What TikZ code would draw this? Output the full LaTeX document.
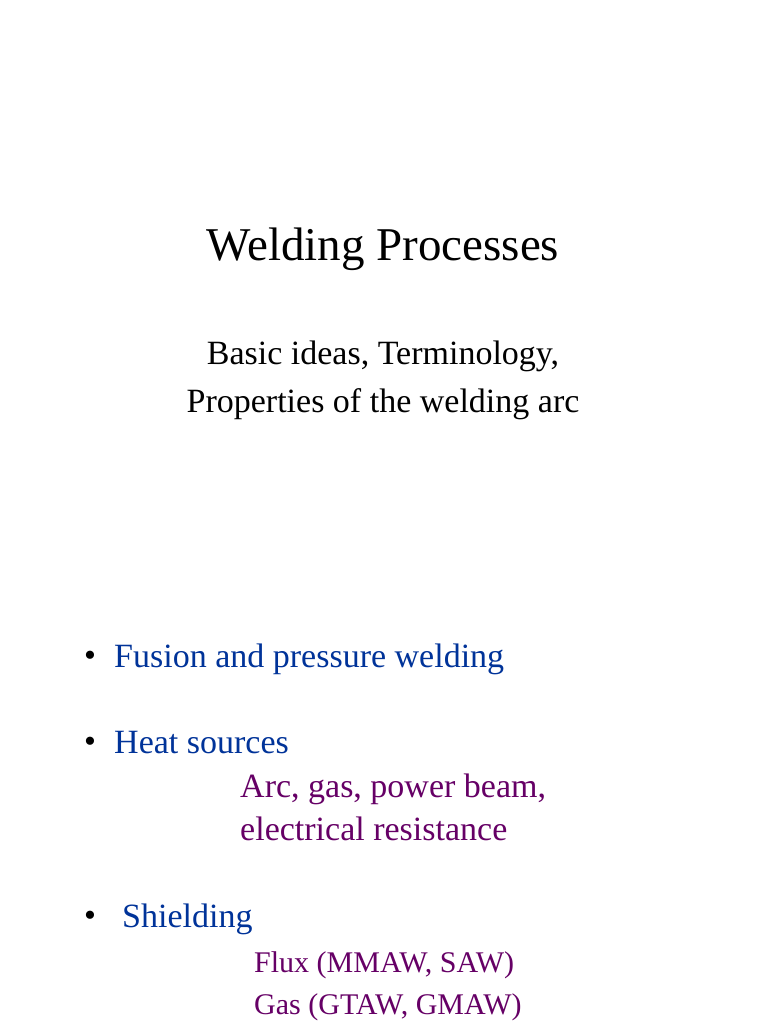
\documentclass[tikz,border=0pt]{standalone}
\usepackage{fontspec}
\setmainfont{Liberation Serif}
\definecolor{bblue}{HTML}{003399}
\definecolor{ppurple}{HTML}{660066}
\begin{document}
\begin{tikzpicture}[x=1pt,y=-1pt,
  txt/.style={inner sep=0pt,anchor=base west,font=\fontsize{34}{40}\selectfont},
  ctr/.style={inner sep=0pt,anchor=base,font=\fontsize{34}{40}\selectfont},
  blt/.style={inner sep=0pt,anchor=base west,font=\fontsize{34}{40}\selectfont}]
\useasboundingbox[fill=white] (0,0) rectangle (768,1024);
\node[ctr,font=\fontsize{47}{56}\selectfont] (title) at (383,260) {Welding Processes};
\node[ctr] (sub1) at (383,364) {Basic ideas, Terminology,};
\node[ctr] (sub2) at (383,412) {Properties of the welding arc};
\node[blt] (b1) at (84,666) {\textbullet};
\node[txt,bblue] (t1) at (114,667) {Fusion and pressure welding};
\node[blt] (b2) at (84,752) {\textbullet};
\node[txt,bblue] (t2) at (114,753) {Heat sources};
\node[txt,ppurple] (t3) at (240,797) {Arc, gas, power beam,};
\node[txt,ppurple] (t4) at (240,840) {electrical resistance};
\node[blt] (b3) at (84,926) {\textbullet};
\node[txt,bblue] (t5) at (122,927) {Shielding};
\node[txt,ppurple,font=\fontsize{30}{36}\selectfont] (t6) at (254,972) {Flux (MMAW, SAW)};
\node[txt,ppurple,font=\fontsize{30}{36}\selectfont] (t7) at (254,1014) {Gas (GTAW, GMAW)};
\end{tikzpicture}
\end{document}
